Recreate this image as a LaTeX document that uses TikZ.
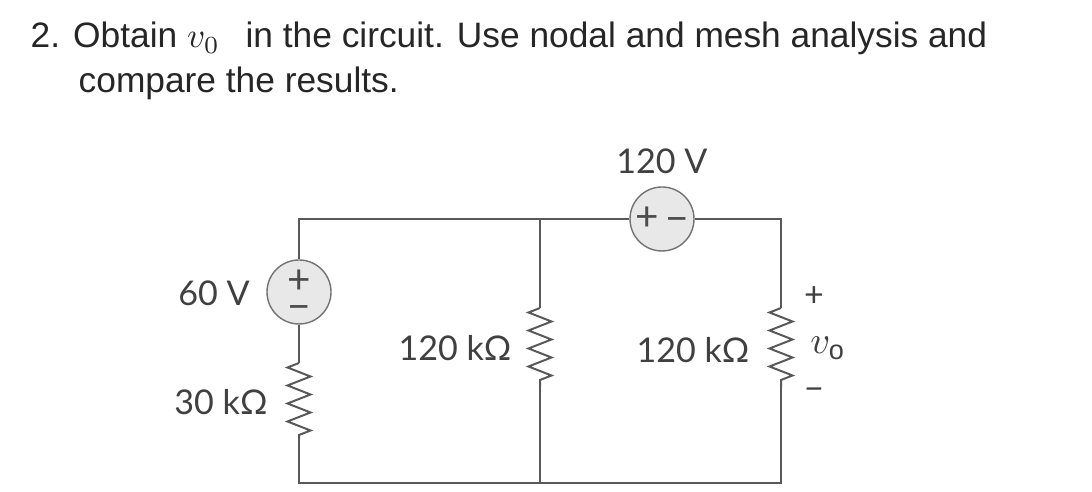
\documentclass[tikz,border=0pt]{standalone}
\usepackage{amsmath}
\usepackage{fontspec}
\setmainfont{Liberation Sans}
\newfontfamily\labelfont{Lato}
\usetikzlibrary{decorations.pathmorphing, positioning}

\begin{document}
\begin{tikzpicture}[
  title/.style={anchor=base west, inner sep=0pt, font=\fontsize{10.05}{12}\selectfont, text=black!85},
  wire/.style={draw=black!65, line width=0.25mm},
  resistor/.style={draw=black!65, line width=0.2mm, decorate, decoration={zigzag, mirror, amplitude=1.15mm, segment length=1.8mm}},
  source/.style={circle, draw=black!55, fill=black!9, minimum size=0.64cm, inner sep=0pt},
  sign/.style={inner sep=0pt, font=\labelfont\fontsize{11.5}{12}\selectfont, text=black!70},
  value/.style={inner sep=0pt, font=\labelfont\fontsize{9.7}{11}\selectfont, text=black!75}
]
\useasboundingbox (0,0) rectangle (10.92,4.92);

% Question text
\node[title] (line1) at (0.30,4.44) {2. Obtain $v_0$\hspace{0.45em} in the circuit. Use nodal and mesh analysis and};
\node[title] (line2) at (0.78,3.99) {compare the results.};

% Corners
\coordinate (TL) at (2.99,2.73);
\coordinate (TM) at (5.40,2.73);
\coordinate (TR) at (7.81,2.73);
\coordinate (BL) at (2.99,0.09);
\coordinate (BM) at (5.40,0.09);
\coordinate (BR) at (7.81,0.09);

% Resistor ends
\coordinate (R1a) at (2.99,1.29);
\coordinate (R1b) at (2.99,0.53);
\coordinate (R2a) at (5.40,1.84);
\coordinate (R2b) at (5.40,1.05);
\coordinate (R3a) at (7.81,1.84);
\coordinate (R3b) at (7.81,1.05);

% Sources
\node[source] (V1) at (2.99,2.00) {};
\node[source] (V2) at (6.62,2.73) {};
\node[sign] (V1p) at (2.99,2.10) {+};
\node[sign] (V1m) at (2.99,1.79) {−};
\node[sign] (V2p) at (6.47,2.73) {+};
\node[sign] (V2m) at (6.77,2.67) {−};

% Wires
\draw[wire] (V1) -- (TL) -- (V2);
\draw[wire] (V2) -- (TR) -- (R3a);
\draw[wire] (V1) -- (R1a);
\draw[wire] (R1b) -- (BL) -- (BR) -- (R3b);
\draw[wire] (TM) -- (R2a);
\draw[wire] (R2b) -- (BM);

% Resistors
\draw[resistor] (R1a) -- (R1b);
\draw[resistor] (R2a) -- (R2b);
\draw[resistor] (R3a) -- (R3b);

% Labels
\node[value] (v1lab) at (2.14,1.99) {60 V};
\node[value] (r1lab) at (2.21,0.90) {30 kΩ};
\node[value] (r2lab) at (4.55,1.44) {120 kΩ};
\node[value] (r3lab) at (6.93,1.42) {120 kΩ};
\node[value] (v2lab) at (6.62,3.31) {120 V};
\node[value] (plus) at (8.14,1.95) {+};
\node[value, font=\fontsize{11}{11}\selectfont] (vo) at (8.28,1.44) {$v_{\mathrm{o}}$};
\node[value] (minus) at (8.14,0.98) {−};

\end{tikzpicture}
\end{document}
